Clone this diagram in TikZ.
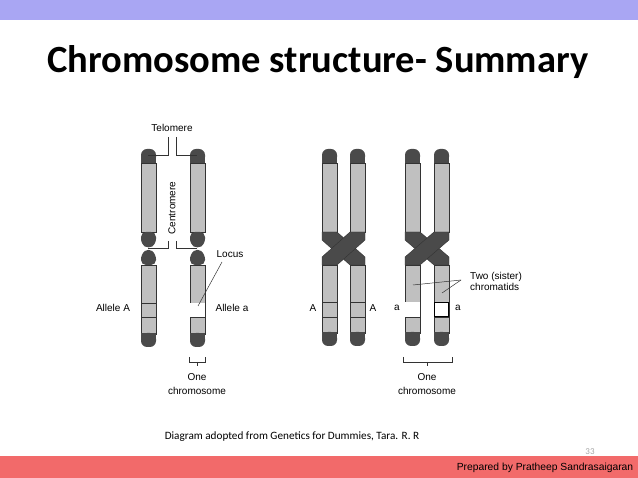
\documentclass[tikz,border=0pt]{standalone}
\usepackage{fontspec}
\setmainfont{Carlito}
\newfontfamily\lab{Liberation Sans}
\definecolor{topbar}{HTML}{A9A6F3}
\definecolor{botbar}{HTML}{F26A6A}
\definecolor{dk}{HTML}{4A4A4A}
\definecolor{gr}{HTML}{C0C0C0}
\newcommand{\capT}[2]{\fill[dk,rounded corners=6pt] (#1,#2) rectangle ++(15,14);\fill[dk] (#1,#2+7) rectangle ++(15,7);}
\newcommand{\capB}[2]{\fill[dk,rounded corners=6pt] (#1,#2) rectangle ++(15,-14);\fill[dk] (#1,#2-7) rectangle ++(15,-7);}
\begin{document}
\begin{tikzpicture}[x=1pt,y=-1pt,
  lbl/.style={font=\lab\fontsize{10}{11}\selectfont,inner sep=1pt},
  seg/.style={draw=black!80,line width=0.5pt},
  ln/.style={draw=black!80,line width=0.5pt}]
\useasboundingbox (0,0) rectangle (638,478);
\fill[topbar] (0,0) rectangle (638,20);
\fill[botbar] (0,456) rectangle (638,478);
\node[font=\bfseries\fontsize{38.5}{42}\selectfont] (title) at (318,62) {Chromosome structure- Summary};
% ---------- left pair ----------
\foreach \x in {141,190}{
  \capT{\x}{149}
  \fill[gr] (\x,163) rectangle ++(15,69);
  \draw[seg] (\x,163) rectangle ++(15,69);
  \fill[dk,rounded corners=5pt] (\x,232) -- (\x,244) -- (\x+7.5,249) -- (\x+15,244) -- (\x+15,232) -- cycle;
  \fill[dk,rounded corners=5pt] (\x,265) -- (\x,254) -- (\x+7.5,248) -- (\x+15,254) -- (\x+15,265) -- cycle;
  \fill[gr] (\x,265) rectangle ++(15,69);
  \draw[seg] (\x,265) rectangle ++(15,69);
  \draw[seg] (\x,303) -- ++(15,0) (\x,317) -- ++(15,0);
  \capB{\x}{347}
}
\fill[white] (190.3,303.3) rectangle (204.7,316.7);
\node[lbl] (telo) at (172,128) {Telomere};
\coordinate (t1) at (168,137); \coordinate (t2) at (176,137);
\draw[ln] (t1) |- (148,155);
\draw[ln] (t2) |- (197,155);
\node[lbl,rotate=90] (centro) at (172,208) {Centromere};
\draw[ln] (168,241) |- (148,248);
\draw[ln] (176,241) |- (197,248);
\node[lbl] (locus) at (230,254) {Locus};
\draw[ln] (222,262) -- (198,306);
\node[lbl] (alA) at (113,308) {Allele A};
\node[lbl] (ala) at (232,308) {Allele a};
\draw[ln] (189,357) -- (189,362) -- (205,362) -- (205,357) (197,362) -- (197,366);
\node[lbl] (one1) at (197,377) {One};
\node[lbl] (chr1) at (197,391) {chromosome};
% ---------- right pairs ----------
\foreach \a/\b in {322/350,405/434}{
  \foreach \x in {\a,\b}{
    \capT{\x}{149}
    \fill[gr] (\x,163) rectangle ++(15,69);
    \draw[seg] (\x,163) rectangle ++(15,69);
    \fill[gr] (\x,265) rectangle ++(15,68);
    \draw[seg] (\x,265) rectangle ++(15,68);
    \draw[seg] (\x,302) -- ++(15,0) (\x,317) -- ++(15,0);
    \capB{\x}{346}
  }
  \filldraw[dk,draw=black!80,line width=0.4pt] (\a,232) -- (\a+15,232) -- (\b+15,257) -- (\b+15,265) -- (\b,265) -- (\a,240) -- cycle;
  \filldraw[dk,draw=black!80,line width=0.4pt] (\b+15,232) -- (\b,232) -- (\a,257) -- (\a,265) -- (\a+15,265) -- (\b+15,240) -- cycle;
}
\fill[white] (405.3,302.3) rectangle (419.7,316.7);
\fill[white] (434.3,302.3) rectangle (448.7,316.7);
\draw[line width=0.8pt] (434.3,302.3) rectangle (448.7,316.7);
\node[lbl] (A1) at (313,308) {A};
\node[lbl] (A2) at (373,308) {A};
\node[lbl] (a1) at (397,308) {a};
\node[lbl] (a2) at (458,308) {a};
\node[lbl,align=left,anchor=west] (two) at (469,281) {Two (sister)\\chromatids};
\coordinate (tw) at (461,280);
\draw[ln] (tw) -- (413,285);
\draw[ln] (tw) -- (442,293);
\draw[ln] (403,357) -- (403,362) -- (452,362) -- (452,357) (427,362) -- (427,366);
\node[lbl] (one2) at (427,377) {One};
\node[lbl] (chr2) at (427,391) {chromosome};
\node[font=\fontsize{11.2}{12}\selectfont] (cap) at (292,437) {Diagram adopted from Genetics for Dummies, Tara. R. R};
\node[font=\fontsize{9}{10}\selectfont,text=gray!70] (pg) at (590,452) {33};
\node[font=\lab\fontsize{10.3}{11}\selectfont] (prep) at (545,468) {Prepared by Pratheep Sandrasaigaran};
\end{tikzpicture}
\end{document}
